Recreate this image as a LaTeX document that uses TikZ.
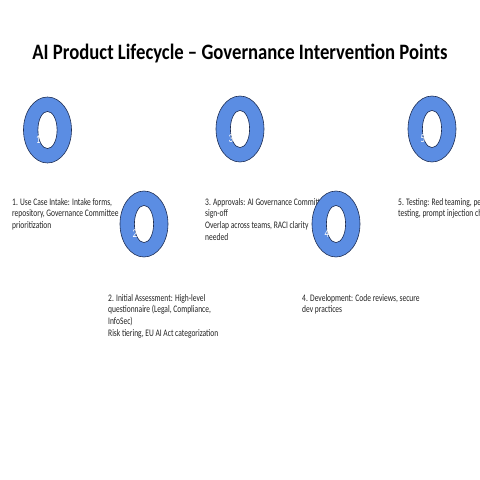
\documentclass[tikz,border=0pt]{standalone}
\usepackage{fontspec}
\setmainfont[FakeStretch=0.75]{Carlito}
\newfontfamily\headfont[FakeStretch=0.85]{Carlito}
\usepackage{tikz}
\usepackage{xcolor}
\definecolor{RingBlue}{HTML}{5B8DE3}
\definecolor{RingEdge}{HTML}{1F2F55}
\definecolor{NoteInk}{HTML}{222222}
\newcommand{\notelines}[1]{\begin{tabular}[t]{@{}l@{}}#1\end{tabular}}
\tikzset{
  ring/.style={fill=RingBlue,draw=RingEdge,line width=0.6pt,even odd rule},
  ringnum/.style={text=white,font=\fontsize{12}{12}\selectfont,inner sep=0pt},
  notebox/.style={anchor=base west,inner sep=0pt,text=NoteInk,
    font=\fontsize{10}{11.7}\selectfont}
}

\begin{document}
\begin{tikzpicture}[x=1pt,y=-1pt]
    \useasboundingbox (0,0) rectangle (480,480);

    \node[font=\headfont\bfseries\fontsize{22}{24}\selectfont,anchor=base,inner sep=0pt] (title) at (240,59)
        {AI Product Lifecycle – Governance Intervention Points};

    % notes first, the rings lie over them
    \node[notebox] (note1) at (12,205) {\notelines{1. Use Case Intake: Intake forms,\\repository, Governance Committee\\prioritization}};
    \node[notebox] (note2) at (108,301) {\notelines{2. Initial Assessment: High-level\\questionnaire (Legal, Compliance,\\InfoSec)\\Risk tiering, EU AI Act categorization}};
    \node[notebox] (note3) at (205,205) {\notelines{3. Approvals: AI Governance Committee\\sign-off\\Overlap across teams, RACI clarity\\needed}};
    \node[notebox] (note4) at (302,301) {\notelines{4. Development: Code reviews, secure\\dev practices}};
    \node[notebox] (note5) at (398,205) {\notelines{5. Testing: Red teaming, performance\\testing, prompt injection checks}};

    % rings
    \foreach \n/\x/\y in {1/47.5/130, 2/144/224, 3/240/129, 4/336/224, 5/432/129} {
        \coordinate (r\n) at (\x,\y);
        \path[ring] (r\n) ellipse [x radius=24,y radius=33] (r\n) ellipse [x radius=9.6,y radius=18.6];
        \node[ringnum] (num\n) at ([shift={(-9,10)}]r\n) {\n};
    }
\end{tikzpicture}
\end{document}
